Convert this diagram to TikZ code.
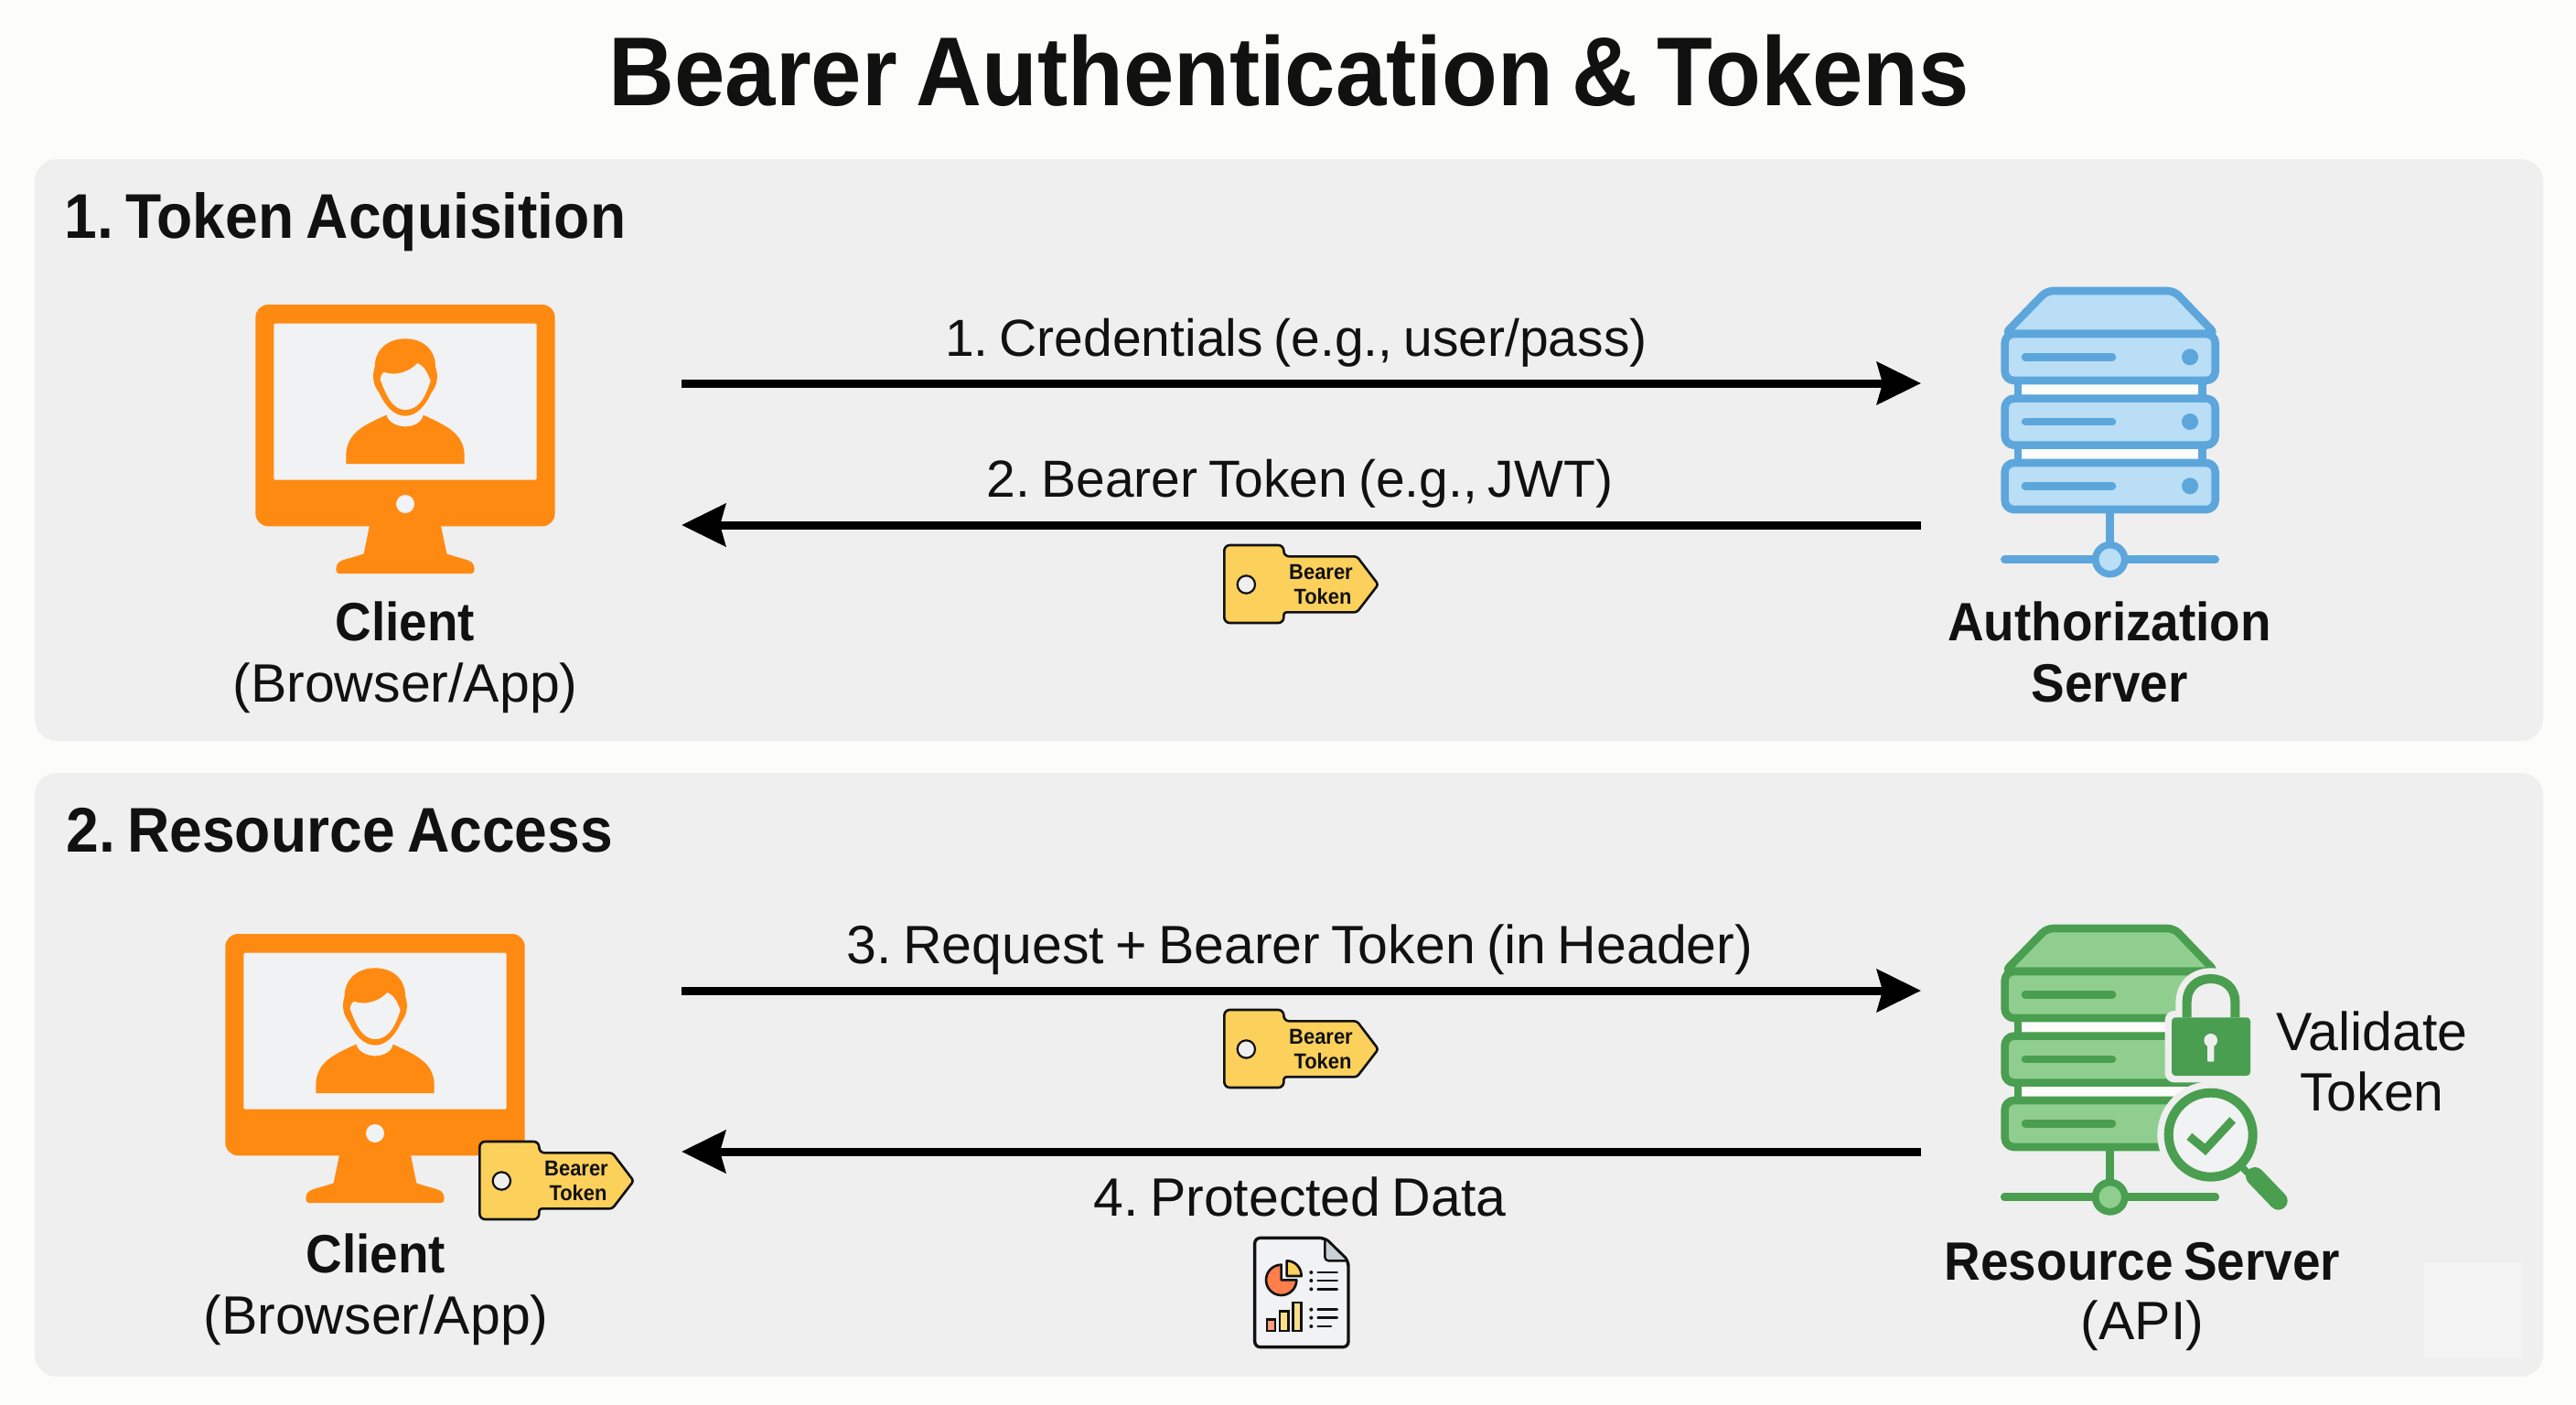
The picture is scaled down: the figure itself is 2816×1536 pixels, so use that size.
\documentclass[tikz,border=0pt]{standalone}
\usepackage{fontspec}
\setmainfont[WordSpace=0.75,BoldFeatures={FakeStretch=0.93}]{Liberation Sans}
\usetikzlibrary{arrows.meta}
\definecolor{pagebg}{HTML}{FCFCFB}
\definecolor{panelbg}{HTML}{EFEFEF}
\definecolor{patchbg}{HTML}{F3F3F3}
\definecolor{screenbg}{HTML}{F1F2F3}
\definecolor{orangeic}{HTML}{FF8A12}
\definecolor{bluest}{HTML}{5CA6DC}
\definecolor{bluefl}{HTML}{B9DEF6}
\definecolor{greenst}{HTML}{4A9E4F}
\definecolor{greenfl}{HTML}{90CE8F}
\definecolor{keyfl}{HTML}{FBD05B}
\definecolor{inkc}{HTML}{111111}
\tikzset{
  panel/.style={fill=panelbg,draw=none,rounded corners=12pt},
  flow/.style={draw=black,line width=4.5pt,-{Stealth[length=24pt,width=23pt,inset=3pt]}},
  lbl/.style={text=inkc,inner sep=0pt,font=\frenchspacing\fontsize{29.5}{34}\selectfont,align=center},
  lblsm/.style={text=inkc,inner sep=0pt,font=\frenchspacing\fontsize{28.5}{34}\selectfont,align=center},
  lblb/.style={text=inkc,inner sep=0pt,font=\frenchspacing\fontsize{29.5}{34}\selectfont\bfseries,align=center},
  hdr/.style={text=inkc,inner sep=0pt,anchor=west,font=\frenchspacing\fontsize{34.5}{38}\selectfont\bfseries},
  keytext/.style={text=inkc,inner sep=0pt,font=\fontsize{11.8}{13}\selectfont\bfseries},
  zunits/.style={x=0.1666667pt,y=-0.1666667pt},
}
\newcommand\monitoricon[2]{%
\begin{scope}[shift={(#1,#2)},zunits]
 \fill[orangeic,rounded corners=7pt] (-491,0) rectangle (491,727);
 \fill[screenbg,rounded corners=1pt] (-431,62) rectangle (431,575);
 \fill[screenbg] (0,654) circle (30);
 \fill[orangeic] (-116,720) -- (116,720) -- (136,817) .. controls (170,830) and (205,835) .. (218,845) .. controls (230,855) and (230,882) .. (218,882) -- (-218,882) .. controls (-230,882) and (-230,855) .. (-218,845) .. controls (-205,835) and (-170,830) .. (-136,817) -- cycle;
 \fill[orangeic] (-194,522) -- (-194,490) .. controls (-190,420) and (-135,395) .. (-62,362) .. controls (-55,385) and (-30,400) .. (0,400) .. controls (30,400) and (55,385) .. (59,362) .. controls (130,395) and (190,420) .. (194,490) -- (194,522) -- cycle;
 \fill[screenbg] (-48,352) .. controls (-40,385) and (-25,390) .. (0,400) .. controls (25,390) and (40,385) .. (48,352) -- cycle;
 \fill[orangeic] (0,112) .. controls (-60,112) and (-100,150) .. (-100,205) .. controls (-110,235) and (-105,265) .. (-85,290) .. controls (-65,335) and (-35,365) .. (0,365) .. controls (35,365) and (65,335) .. (85,290) .. controls (105,265) and (110,235) .. (99,205) .. controls (100,150) and (60,112) .. (0,112) -- cycle;
 \fill[screenbg] (-82,245) .. controls (-80,230) and (-72,222) .. (-68,222) .. controls (-30,235) and (15,220) .. (40,192) .. controls (60,200) and (72,220) .. (83,250) .. controls (70,290) and (50,345) .. (0,345) .. controls (-45,345) and (-65,290) .. (-82,245) -- cycle;
\end{scope}}
\newcommand\serverbase[4]{%
\begin{scope}[shift={(#1,#2)},zunits,line width=4.3pt,line join=round]
 \fill[pagebg] (180,360) rectangle (762,394);
 \fill[pagebg] (180,573) rectangle (762,606);
 \draw[#3,fill=#4,rounded corners=3.5pt] (125,195) -- (262,54) -- (680,54) -- (815,195) -- cycle;
 \draw[#3] (168,347) -- (168,407) (772,347) -- (772,407) (168,560) -- (168,618) (772,560) -- (772,618);
 \foreach \yy in {195,407,618}{
  \draw[#3,fill=#4,rounded corners=5pt] (125,\yy) rectangle (815,\yy+153);
  \draw[#3,line cap=round] (192,\yy+76) -- (477,\yy+76);
  \fill[#3] (732,\yy+76) circle (27);
 }
 \draw[#3] (470,770) -- (470,880);
 \draw[#3,line cap=round] (124,935) -- (815,935);
 \draw[#3,line width=3.8pt,fill=#4] (470,935) circle (48);
\end{scope}}
\newcommand\keytag[3]{%
\begin{scope}[shift={(#2,#3)},zunits]
 \draw[inkc,line width=1.3pt,fill=keyfl,line join=round,rounded corners=3pt]
   (55,48) -- (250,48) -- (250,85) [rounded corners=1.5pt] -- (490,85) -- (560,177) -- (490,268) -- (250,268) [rounded corners=3pt] -- (250,303) -- (55,303) -- cycle;
 \draw[inkc,line width=1.1pt,fill=panelbg] (127,177) circle (29);
 \node[keytext] (#1-b) at (372,135) {Bearer};
 \node[keytext] (#1-t) at (378,217) {Token};
\end{scope}}
\begin{document}
\begin{tikzpicture}[x=0.5pt,y=-0.5pt]
\useasboundingbox (0,0) rectangle (2816,1536);
\fill[pagebg] (0,0) rectangle (2816,1536);
\node[inkc,inner sep=0pt,font=\frenchspacing\fontsize{53.5}{56}\selectfont\bfseries] (title) at (1409,77) {Bearer Authentication \& Tokens};
\path[panel] (38,174) rectangle (2780,810);
\path[panel] (38,845) rectangle (2780,1505);
\fill[patchbg] (2650,1380) rectangle (2757,1484);
\node[hdr] (h1) at (70,243) {1. Token Acquisition};
\node[hdr] (h2) at (72,908) {2. Resource Access};

\monitoricon{443}{333}
\node[lblb] (c1a) at (443,679) {Client};
\node[lbl] (c1b) at (443,752) {(Browser/App)};
\serverbase{2150}{300}{bluest}{bluefl}
\node[lblb] (as1) at (2306,679) {Authorization};
\node[lblb] (as2) at (2306,747) {Server};
\coordinate (a1s) at (745,419); \coordinate (a1e) at (2100,419);
\coordinate (a2s) at (2100,574); \coordinate (a2e) at (745,574);
\draw[flow] (a1s) -- (a1e);
\draw[flow] (a2s) -- (a2e);
\node[lblsm] (l1) at (1417,375) {1. Credentials (e.g., user/pass)};
\node[lblsm] (l2) at (1421,529) {2. Bearer Token (e.g., JWT)};
\keytag{k1}{1320}{580}

\monitoricon{410}{1021}
\keytag{k3}{506}{1232}
\node[lblb] (c2a) at (411,1370) {Client};
\node[lbl] (c2b) at (411,1443) {(Browser/App)};
\serverbase{2150}{997}{greenst}{greenfl}
\begin{scope}[shift={(2150,990)},zunits]
 \fill[panelbg,rounded corners=5pt] (650,345) rectangle (952,580);
 \fill[panelbg] (685,360) -- (685,320) .. controls (685,250) and (735,205) .. (800,205) .. controls (865,205) and (915,250) .. (915,320) -- (915,360) -- cycle;
 \fill[panelbg] (800,752) circle (175);
 \fill[panelbg] (960,800) -- (830,1010) -- (1080,1010) -- (1080,800) -- cycle;
 \draw[greenst,line width=5pt] (722,367) -- (722,315) .. controls (722,270) and (755,240) .. (800,240) .. controls (845,240) and (880,270) .. (880,315) -- (880,367);
 \fill[greenst,rounded corners=2pt] (672,367) rectangle (930,558);
 \fill[panelbg] (800,442) circle (22);
 \fill[panelbg,rounded corners=0.5pt] (789,450) rectangle (811,512);
 \draw[greenst,line width=5pt,fill=screenbg] (800,752) circle (138);
 \draw[greenst,line width=3.8pt] (900,855) -- (935,890);
 \draw[greenst,line width=10pt,line cap=round] (945,888) -- (1022,968);
 \draw[greenst,line width=4.6pt] (730,757) -- (782,800) -- (872,703);
\end{scope}
\begin{scope}[shift={(2150,997)},zunits,line width=4.3pt]
 \draw[greenst,line cap=round] (124,935) -- (815,935);
 \draw[greenst,line width=3.8pt,fill=greenfl] (470,935) circle (48);
\end{scope}
\node[lbl] (v1) at (2593,1127) {Validate};
\node[lbl] (v2) at (2593,1193) {Token};
\node[lblb] (rs1) at (2342,1379) {Resource Server};
\node[lbl] (rs2) at (2342,1449) {(API)};
\coordinate (a3s) at (745,1083); \coordinate (a3e) at (2100,1083);
\coordinate (a4s) at (2100,1259); \coordinate (a4e) at (745,1259);
\draw[flow] (a3s) -- (a3e);
\draw[flow] (a4s) -- (a4e);
\node[lbl] (l3) at (1421,1038) {3. Request + Bearer Token (in Header)};
\node[lbl] (l4) at (1421,1308) {4. Protected Data};
\keytag{k2}{1320}{1088}
\begin{scope}[shift={(1350,1340)},zunits]
 \draw[inkc,line width=1.7pt,fill=screenbg,line join=round,rounded corners=3pt] (65,40) -- (295,40) -- (372,115) -- (372,398) -- (65,398) -- cycle;
 \draw[inkc,line width=1.2pt,fill=bluefl!45!gray!55!white,line join=round,rounded corners=2pt] (295,40) -- (295,115) -- (372,115) -- cycle;
 \draw[inkc,line width=1.3pt,fill=orange!55!red!70!white,line join=round] (152,128) .. controls (124.4,128) and (102,150.4) .. (102,178) .. controls (102,205.6) and (124.4,228) .. (152,228) .. controls (179.6,228) and (202,205.6) .. (202,178) -- (152,178) -- cycle;
 \draw[inkc,line width=1.3pt,fill=keyfl,line join=round] (170,115) .. controls (197,115) and (218,137) .. (218,165) -- (170,165) -- cycle;
 \draw[inkc,line width=1.2pt,fill=orange!45!red!50!white] (105,308) rectangle (132,345);
 \draw[inkc,line width=1.2pt,fill=keyfl!70!white] (147,280) rectangle (175,345);
 \draw[inkc,line width=1.2pt,fill=keyfl!70!white] (190,252) rectangle (217,345);
 \foreach \yy in {153,180,208,275,302,330}{\fill[inkc] (250,\yy) circle (6);}
 \foreach \yy/\xe in {153/335,180/335,208/335,275/335,302/335,330/315}{\draw[inkc,line width=1.4pt,line cap=round] (272,\yy) -- (\xe,\yy);}
\end{scope}
\end{tikzpicture}
\end{document}
